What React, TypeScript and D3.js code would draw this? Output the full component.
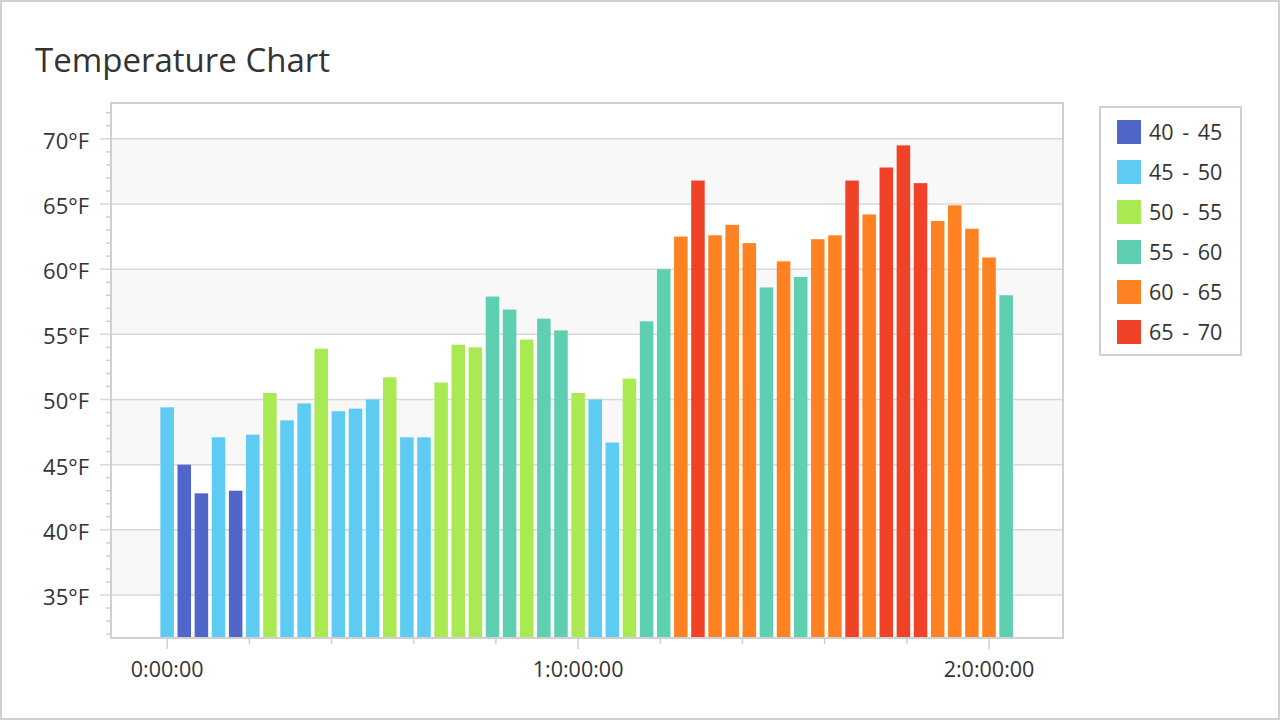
import React from "react";
import * as d3 from "d3";

// ---- data ----
const minutes: number[] = [
  0, 2.5, 5, 7.5, 10, 12.5, 15, 17.5, 20, 22.5,
  25, 27.5, 30, 32.5, 35, 37.5, 40, 42.5, 45, 47.5,
  50, 52.5, 55, 57.5, 60, 62.5, 65, 67.5, 70, 72.5,
  75, 77.5, 80, 82.5, 85, 87.5, 90, 92.5, 95, 97.5,
  100, 102.5, 105, 107.5, 110, 112.5, 115, 117.5, 120, 122.5,
];
const temperatures: number[] = [
  49.4, 45.0, 42.8, 47.1, 43.0, 47.3, 50.5, 48.4, 49.7, 53.9,
  49.1, 49.3, 50.0, 51.7, 47.1, 47.1, 51.3, 54.2, 54.0, 57.9,
  56.9, 54.6, 56.2, 55.3, 50.5, 50.0, 46.7, 51.6, 56.0, 60.0,
  62.5, 66.8, 62.6, 63.4, 62.0, 58.6, 60.6, 59.4, 62.3, 62.6,
  66.8, 64.2, 67.8, 69.5, 66.6, 63.7, 64.9, 63.1, 60.9, 58.0,
];
const rangeLabels: string[] = ["40 - 45", "45 - 50", "50 - 55", "55 - 60", "60 - 65", "65 - 70"];
const rangeUpper: number[] = [45, 50, 55, 60, 65, 70];
const rangeColors: string[] = ["#5066c9", "#5ecbf2", "#a9e952", "#5ecfb1", "#ff8222", "#f04226"];
const yTickValues: number[] = [35, 40, 45, 50, 55, 60, 65, 70];
const yTickLabels: string[] = ["35°F", "40°F", "45°F", "50°F", "55°F", "60°F", "65°F", "70°F"];
const xTickValues: number[] = [0, 60, 120];
const xTickLabels: string[] = ["0:00:00", "1:0:00:00", "2:0:00:00"];
const xMinorTicks: number[] = [12, 24, 36, 48, 72, 84, 96, 108];
const bands: [number, number][] = [[35, 40], [45, 50], [55, 60], [65, 70]];

const W = 1280, H = 720;
const plot = { left: 111, right: 1063, top: 103, bottom: 638 };
const font = "'Open Sans', 'Noto Sans', sans-serif";
const textColor = "#333333";

export default function App() {
  const x = d3.scaleLinear().domain([-8.2, 130.8]).range([plot.left, plot.right]);
  const y = d3.scaleLinear().domain([31.7, 72.75]).range([plot.bottom, plot.top]);
  const step = x(2.5) - x(0);
  const barW = step * 0.79;
  const colorOf = (v: number) => {
    const i = rangeUpper.findIndex((u) => v <= u);
    return rangeColors[i < 0 ? rangeColors.length - 1 : i];
  };
  const yMinor = d3.range(32, 73).filter((v) => v % 5 !== 0);

  return (
    <svg width={W} height={H} style={{ position: "fixed", left: 0, top: 0, background: "#fff" }} fontFamily={font}>
      <rect x={1} y={1} width={W - 2} height={H - 2} fill="#fff" stroke="#d0d0d0" strokeWidth={2} />
      <text x={35} y={72} fontSize={33} fill={textColor}>Temperature Chart</text>

      {/* bands */}
      {bands.map(([a, b], i) => (
        <rect key={"band" + i} x={plot.left} y={y(b)} width={plot.right - plot.left} height={y(a) - y(b)} fill="#f8f8f8" />
      ))}
      {/* gridlines */}
      {yTickValues.map((v) => (
        <line key={"g" + v} x1={plot.left - 11} x2={plot.right} y1={y(v)} y2={y(v)} stroke="#d8d8d8" strokeWidth={1.5} />
      ))}
      {/* y minor ticks */}
      {yMinor.map((v) => (
        <line key={"ym" + v} x1={plot.left - 5} x2={plot.left} y1={y(v)} y2={y(v)} stroke="#d0d0d0" strokeWidth={1.5} />
      ))}
      {/* y labels */}
      {yTickValues.map((v, i) => (
        <text key={"yl" + v} x={89} y={y(v) + 10} textAnchor="end" fontSize={22} fill={textColor}>{yTickLabels[i]}</text>
      ))}

      {/* bars */}
      {temperatures.map((t, i) => (
        <rect key={"b" + i} x={x(minutes[i]) - barW / 2} y={y(t)} width={barW} height={plot.bottom - y(t)} fill={colorOf(t)} />
      ))}

      {/* plot border */}
      <rect x={plot.left} y={plot.top} width={plot.right - plot.left} height={plot.bottom - plot.top} fill="none" stroke="#d0d0d0" strokeWidth={2} />

      {/* x ticks */}
      {xMinorTicks.map((m) => (
        <line key={"xm" + m} x1={x(m)} x2={x(m)} y1={plot.bottom} y2={plot.bottom + 6} stroke="#d0d0d0" strokeWidth={1.5} />
      ))}
      {xTickValues.map((m, i) => (
        <g key={"xt" + m}>
          <line x1={x(m)} x2={x(m)} y1={plot.bottom} y2={plot.bottom + 11} stroke="#d0d0d0" strokeWidth={1.5} />
          <text x={x(m)} y={677} textAnchor="middle" fontSize={21.5} fill={textColor}>{xTickLabels[i]}</text>
        </g>
      ))}

      {/* legend */}
      <rect x={1100} y={107} width={141} height={248} fill="#fff" stroke="#d0d0d0" strokeWidth={2} />
      {rangeLabels.map((lab, i) => (
        <g key={"lg" + i}>
          <rect x={1117} y={120 + 40 * i} width={24} height={24} fill={rangeColors[i]} />
          <text x={1149} y={132 + 40 * i + 8} fontSize={21.5} wordSpacing={3} fill={textColor}>{lab}</text>
        </g>
      ))}
    </svg>
  );
}
